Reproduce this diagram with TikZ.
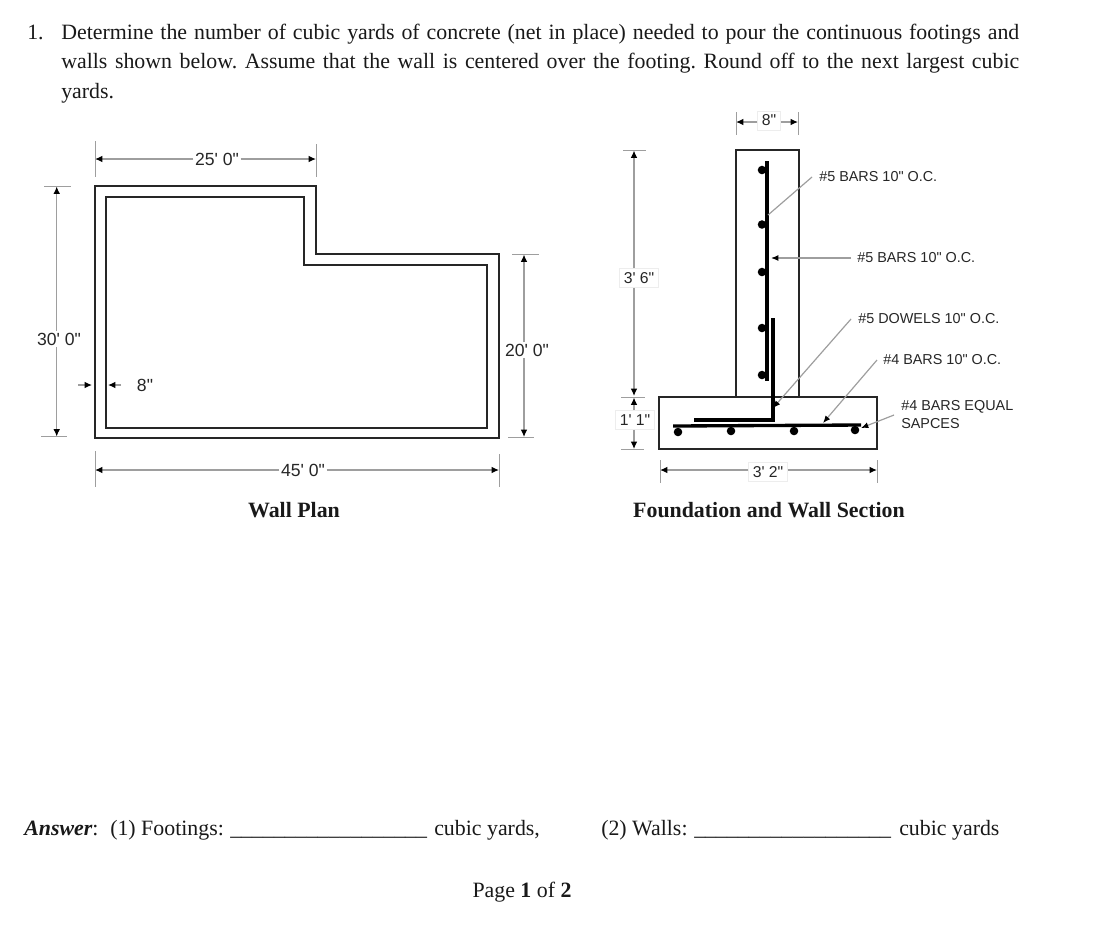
\documentclass[tikz,border=0pt]{standalone}
\usepackage{fontspec}
\setmainfont{Liberation Serif}
\newfontfamily\lab{Liberation Sans}
\usetikzlibrary{arrows.meta}
\definecolor{ink}{gray}{0.15}
\definecolor{dim}{gray}{0.62}
\tikzset{
  x=0.75pt,y=-0.75pt,
  body/.style={inner sep=0pt,anchor=base west,font=\fontsize{16.4pt}{18pt}\selectfont\frenchspacing,text=black!90},
  bodyc/.style={inner sep=0pt,anchor=base,font=\fontsize{16.4pt}{18pt}\selectfont,text=black!90},
  wall/.style={draw=ink,line width=1.3pt,line join=miter},
  rebar/.style={draw=black,line width=2.5pt},
  dot/.style={circle,fill=black,inner sep=0pt,minimum size=6.4pt},
  dimlabel/.style={font=\lab\fontsize{13.2pt}{14pt}\selectfont,inner sep=1pt,text=black!85},
  boxlabel/.style={font=\lab\fontsize{11.8pt}{14pt}\selectfont,inner sep=3pt,text=black!85,draw=black!7,line width=0.6pt},
  calllabel/.style={font=\lab\fontsize{10.8pt}{12.8pt}\selectfont,inner sep=0pt,anchor=west,align=left,text=black!85},
  dimline/.style={draw=dim,line width=1pt,-{Latex[black,length=5.5pt,width=5pt]}},
  extline/.style={draw=dim,line width=0.7pt},
  leader/.style={draw=dim,line width=0.9pt},
  leadtip/.style={leader,-{Latex[black,length=5.5pt,width=4.5pt]}}
}
\begin{document}
\begin{tikzpicture}
\useasboundingbox (0,0) rectangle (1116,926);
% question text
\node[body] (n1) at (27,39) {1.};
\node[body] (l1) at (61,39) {\makebox[718.5pt][s]{Determine the number of cubic yards of concrete (net in place) needed to pour the continuous footings and}};
\node[body] (l2) at (61,68) {\makebox[718.5pt][s]{walls shown below. Assume that the wall is centered over the footing. Round off to the next largest cubic}};
\node[body] (l3) at (61,98) {yards.};
% plan
\draw[wall] (95,186) -- (316,186) -- (316,254) -- (499,254) -- (499,438) -- (95,438) -- cycle;
\draw[wall] (106,197) -- (304,197) -- (304,265) -- (487,265) -- (487,428) -- (106,428) -- cycle;
% 25'
\node[dimlabel] (d25) at (217,159) {25' 0"};
\coordinate (d25l) at (95,159); \coordinate (d25r) at (316,159);
\draw[dimline] (d25) -- (d25l); \draw[dimline] (d25) -- (d25r);
\draw[extline] (95,141) -- (95,177); \draw[extline] (316,144) -- (316,177);
% 30'
\node[dimlabel] (d30) at (59,339) {30' 0"};
\coordinate (d30t) at (56.7,186.5); \coordinate (d30b) at (56.7,436.5);
\draw[dimline] (d30t |- d30.north) -- (d30t); \draw[dimline] (d30b |- d30.south) -- (d30b);
\draw[extline] (44,186) -- (71,186); \draw[extline] (41,436.5) -- (67,436.5);
% 8" plan
\node[dimlabel] (d8p) at (145,385) {8"};
\coordinate (a8s) at (78,385); \coordinate (a8e) at (92,385);
\coordinate (b8s) at (121,385); \coordinate (b8e) at (108,385);
\draw[dimline] (a8s) -- (a8e); \draw[dimline] (b8s) -- (b8e);
% 45'
\node[dimlabel] (d45) at (303,470) {45' 0"};
\coordinate (d45l) at (95,470); \coordinate (d45r) at (499,470);
\draw[dimline] (d45) -- (d45l); \draw[dimline] (d45) -- (d45r);
\draw[extline] (95,451) -- (95,487); \draw[extline] (499,454) -- (499,487);
% 20'
\node[dimlabel] (d20) at (527,350) {20' 0"};
\coordinate (d20t) at (524,254.5); \coordinate (d20b) at (524,437);
\draw[dimline] (d20t |- d20.north) -- (d20t); \draw[dimline] (d20b |- d20.south) -- (d20b);
\draw[extline] (512,254) -- (539,254); \draw[extline] (508,437) -- (534,437);
% section
\draw[wall] (736,397) -- (736,150) -- (799,150) -- (799,397);
\draw[wall] (659,397) rectangle (877,449);
\draw[rebar] (767,161) -- (767,381);
\draw[rebar] (773,318) -- (773,420) -- (694,420);
\draw[rebar] (673,426) -- (861,425);
\node[dot] (r1) at (762,170) {};
\node[dot] (r2) at (762,224.5) {};
\node[dot] (r3) at (762,272) {};
\node[dot] (r4) at (762,328) {};
\node[dot] (r5) at (762,375) {};
\node[dot] (f1) at (678,432) {};
\node[dot] (f2) at (731,431) {};
\node[dot] (f3) at (794,431) {};
\node[dot] (f4) at (855,430) {};
% section dimensions
\node[boxlabel] (d8s) at (769,120.5) {8"};
\coordinate (d8l) at (736,122); \coordinate (d8r) at (798,122);
\draw[dimline] (d8s.west |- d8l) -- (d8l); \draw[dimline] (d8s.east |- d8r) -- (d8r);
\draw[extline] (736,112) -- (736,135); \draw[extline] (798,112) -- (798,135);
\node[boxlabel] (d36) at (639,278) {3' 6"};
\coordinate (d36t) at (634,150.5); \coordinate (d36b) at (634,396);
\draw[dimline] (d36t |- d36.north) -- (d36t); \draw[dimline] (d36t |- d36.south) -- (d36b);
\draw[extline] (623,150) -- (646,150); \draw[extline] (621,397) -- (645,397);
\node[boxlabel] (d11) at (635,420) {1' 1"};
\coordinate (d11t) at (634,397.5); \coordinate (d11b) at (634,449);
\draw[dimline] (d11t |- d11.north) -- (d11t); \draw[dimline] (d11t |- d11.south) -- (d11b);
\draw[extline] (621,449) -- (644,449);
\node[boxlabel] (d32) at (768,472) {3' 2"};
\coordinate (d32l) at (660,470); \coordinate (d32r) at (877,470);
\draw[dimline] (d32.west |- d32l) -- (d32l); \draw[dimline] (d32.east |- d32r) -- (d32r);
\draw[extline] (660,460) -- (660,483); \draw[extline] (877,460) -- (877,483);
% callouts
\node[calllabel] (c1) at (819,177) {\#5 BARS 10" O.C.};
\node[calllabel] (c2) at (857,257.5) {\#5 BARS 10" O.C.};
\node[calllabel] (c3) at (858,319) {\#5 DOWELS 10" O.C.};
\node[calllabel] (c4) at (883,360) {\#4 BARS 10" O.C.};
\node[calllabel] (c5) at (901,414.5) {\#4 BARS EQUAL\\SAPCES};
\coordinate (t1) at (768,215); \coordinate (s1) at (812,177);
\coordinate (t2) at (771,258); \coordinate (s2) at (851,258);
\coordinate (t3) at (773,408); \coordinate (s3) at (851,319);
\coordinate (t4) at (823,423); \coordinate (s4) at (877,360);
\coordinate (t5) at (861,428); \coordinate (s5) at (894,415);
\draw[leader] (s1) -- (t1);
\draw[leadtip] (s2) -- (t2);
\draw[leadtip] (s3) -- (t3);
\draw[leadtip] (s4) -- (t4);
\draw[leadtip] (s5) -- (t5);
% titles
\node[bodyc,font=\bfseries\fontsize{16.4pt}{18pt}\selectfont] (tp) at (294,517) {Wall Plan};
\node[bodyc,font=\bfseries\fontsize{16.4pt}{18pt}\selectfont] (ts) at (769,517) {Foundation and Wall Section};
% answer
\node[body] (a1) at (24,835) {\textbf{\textit{Answer}}:};
\node[body] (a2) at (110,835) {(1) Footings:};
\node[body] (u1) at (230,835) {\_\_\_\_\_\_\_\_\_\_\_\_\_\_\_\_\_\_};
\node[body] (a3) at (434,835) {cubic yards,};
\node[body] (a4) at (601,835) {(2) Walls:};
\node[body] (u2) at (694,835) {\_\_\_\_\_\_\_\_\_\_\_\_\_\_\_\_\_\_};
\node[body] (a5) at (899,835) {cubic yards};
\node[bodyc] (pg) at (522,897) {Page \textbf{1} of \textbf{2}};
\end{tikzpicture}
\end{document}
